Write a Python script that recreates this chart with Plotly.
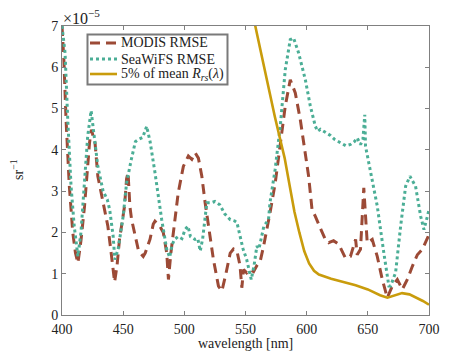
import plotly.graph_objects as go

# MODIS RMSE (x1e-5 sr^-1)
modis_wl = [400, 401.5, 403.3, 406, 408.8, 411, 413, 415.5, 418.4, 421, 422.5, 424, 425.5, 427,
            429.3, 433.4, 437.5, 440.2, 443, 445, 447, 451.1, 452.8, 454, 455.5, 456.9, 459.6,
            462.3, 464, 466.4, 468, 471.9, 474.6, 476, 480, 482.8, 485.6, 487, 489, 492.4, 495,
            499.2, 503.3, 506.1, 508.8, 511.5, 514.3, 517, 519.7, 523.8, 527.9, 530.7, 534,
            537.5, 540.2, 543, 545.5, 547, 548.4, 551, 553.7, 556.6, 559.3, 562, 564.8, 567.5,
            570.2, 574.3, 578.4, 582.5, 586.6, 590.7, 594.8, 598.9, 601.6, 604.4, 607.1, 611.2,
            615.3, 618, 622, 626.3, 631.7, 635.8, 640, 641.3, 644, 646.7, 649.5, 653.6, 657.7,
            661.8, 665.9, 670, 674.1, 678.2, 682.3, 686.4, 690.5, 694.6, 697.3, 700]
modis_val = [7.0, 6.2, 4.73, 3.12, 2.0, 1.5, 1.26, 1.8, 2.63, 3.7, 4.17, 4.49, 4.3, 4.17,
             3.36, 2.72, 2.15, 1.5, 0.8, 1.2, 1.83, 2.63, 3.3, 3.45, 2.63, 2.31, 1.91,
             1.59, 1.5, 1.42, 1.5, 1.83, 2.2, 2.27, 2.15, 2.0, 1.5, 0.86, 1.5, 2.31, 2.96,
             3.6, 3.85, 3.77, 3.93, 3.8, 3.36, 2.72, 2.15, 1.34, 0.7, 0.58, 1.0,
             1.5, 1.6, 1.55, 1.2, 0.66, 1.1, 1.02, 1.1, 1.05, 1.2, 1.3, 1.67, 2.07,
             2.5, 3.2, 4.17, 5.06, 5.70, 5.38, 4.73, 3.93, 3.36, 2.55, 2.39, 2.1,
             1.83, 1.75, 1.8, 1.71, 1.38, 1.42, 1.83, 1.46, 1.59, 3.08, 1.75, 1.83, 1.42,
             0.86, 0.42, 0.7, 0.86, 0.62, 0.86, 1.18, 1.46, 1.59, 1.75, 1.95]

# SeaWiFS RMSE (x1e-5 sr^-1)
seawifs_wl = [400, 402.5, 404.7, 407.4, 410, 413, 415.5, 418.4, 421, 423.8, 426.5, 429.3,
              433.6, 437, 439, 441.8, 443.2, 445.9, 450, 452.8, 456.6, 460, 462.3, 466, 469.2,
              472, 476, 481.5, 485.6, 488, 490, 492, 495, 498, 500.6, 503, 505, 508.8, 511,
              513, 515, 517, 518.4, 522, 525, 529, 533, 537.5, 541, 543, 545.6, 548, 551, 554,
              554.7, 557, 559.3, 561, 563.4, 565, 568.8, 570, 574.2, 578.4, 582.5, 586.6,
              589.3, 593.4, 598.9, 603, 607.1, 609, 611.2, 614, 619.4, 623, 627.6, 632, 635.8,
              639, 641.3, 644, 646, 647.5, 648.1, 652.2, 657.7, 663.1, 667.2, 668.6, 672.7,
              676.8, 680.9, 684.4, 689, 693.2, 695.9, 698.7, 700]
seawifs_val = [7.0, 6.35, 4.73, 3.12, 2.15, 1.42, 2.0, 3.12, 4.33, 4.95, 4.33, 3.6,
               3.0, 2.8, 2.55, 1.91, 1.34, 1.6, 2.39, 3.2, 3.76, 4.2, 4.25, 4.3, 4.57,
               4.2, 3.45, 2.31, 1.59, 1.4, 1.7, 1.83, 1.9, 1.85, 2.07, 2.15, 1.9, 1.83, 1.85,
               1.55, 1.85, 2.4, 2.72, 2.72, 2.75, 2.67, 2.45, 2.31, 2.28, 2.24, 1.9, 1.6, 1.34, 0.93,
               0.86, 1.2, 1.67, 1.6, 1.95, 2.15, 2.31, 2.72, 3.52, 4.57, 5.94, 6.67,
               6.71, 6.35, 5.7, 5.06, 4.57, 4.45, 4.5, 4.45, 4.35, 4.25, 4.17, 4.1, 4.13,
               4.2, 4.29, 4.13, 4.25, 4.85, 4.09, 3.45, 2.64, 1.5, 0.7, 0.7, 1.03,
               2.15, 3.12, 3.36, 3.12, 2.39, 2.07, 2.39, 2.55]

# 5% of mean Rrs (x1e-5 sr^-1)
rrs_wl = [556.5, 558, 562, 566, 570, 574, 578, 582, 586, 590, 594, 598, 602, 606, 610,
          620, 630, 640, 650, 660, 666, 672, 678, 684, 690, 695, 700]
rrs_val = [7.3, 7.0, 6.45, 5.9, 5.3, 4.8, 4.3, 3.8, 3.15, 2.5, 2.0, 1.55, 1.25, 1.07, 0.98,
           0.88, 0.8, 0.72, 0.62, 0.48, 0.42, 0.48, 0.53, 0.5, 0.42, 0.34, 0.25]

x_ticks = [400, 450, 500, 550, 600, 650, 700]
y_ticks = [0, 1, 2, 3, 4, 5, 6, 7]
series_names = ["MODIS RMSE", "SeaWiFS RMSE", "5% of mean <i>R<sub>rs</sub></i>(<i>λ</i>)"]

FONT = "Liberation Serif"
TXT = "#222222"
AXC = "#808080"
C_MODIS = "#9C4A36"
C_SEA = "#4BAE96"
C_RRS = "#C99C0C"
DASH_MODIS = "10px,6px"
styles = [dict(color=C_MODIS, width=3, dash=DASH_MODIS),
          dict(color=C_SEA, width=3, dash="dot"),
          dict(color=C_RRS, width=2.6, dash="solid")]

fig = go.Figure()
for wl, val, name, st in zip([modis_wl, seawifs_wl, rrs_wl],
                             [modis_val, seawifs_val, rrs_val], series_names, styles):
    fig.add_trace(go.Scatter(x=wl, y=val, mode="lines", name=name, line=st,
                             showlegend=False))

axis_common = dict(showgrid=False, zeroline=False, showline=True, mirror="allticks",
                   linecolor=AXC, linewidth=1, ticks="inside", ticklen=4,
                   tickcolor=AXC, tickfont=dict(family=FONT, size=14, color=TXT))

fig.update_xaxes(range=[400, 700], tickvals=x_ticks, ticklabelstandoff=1, **axis_common)
fig.update_yaxes(range=[0, 7], tickvals=y_ticks, **axis_common)

# axis titles and exponent label
fig.add_annotation(text="wavelength [nm]", xref="paper", yref="paper", x=0.5, y=-0.1,
                   xanchor="center", yanchor="middle", showarrow=False,
                   font=dict(family=FONT, size=14, color=TXT))
fig.add_annotation(text="sr<sup>−1</sup>", xref="paper", yref="paper", x=-0.123, y=0.505,
                   xanchor="center", yanchor="middle", showarrow=False, textangle=-90,
                   font=dict(family=FONT, size=14, color=TXT))
fig.add_annotation(text="×10<sup>−5</sup>", xref="paper", yref="paper", x=-0.004, y=1,
                   xanchor="left", yanchor="bottom", showarrow=False, yshift=-3,
                   font=dict(family=FONT, size=16, color=TXT))

# Manual legend (MATLAB-like compact box)
bx0, bx1, by0, by1 = 0.06948, 0.45095, 0.79758, 0.97059
fig.add_shape(type="rect", xref="paper", yref="paper", x0=bx0, x1=bx1, y0=by0, y1=by1,
              line=dict(color="#7a7a7a", width=2), fillcolor="white", layer="above")
row_y = [0.9412, 0.8858, 0.8339]
for ry, name, st in zip(row_y, series_names, styles):
    fig.add_shape(type="line", xref="paper", yref="paper", x0=0.0763, x1=0.1499,
                  y0=ry, y1=ry, line=st, layer="above")
    fig.add_annotation(text=name, xref="paper", yref="paper", x=0.1553, y=ry,
                       xanchor="left", yanchor="middle", showarrow=False,
                       font=dict(family=FONT, size=14, color=TXT))

# page body has an 8px margin; compensate so the plot area lands where the reference has it
fig.update_layout(
    width=466, height=347,
    margin=dict(l=54, r=45, t=18, b=40, autoexpand=False),
    paper_bgcolor="white", plot_bgcolor="white",
    font=dict(family=FONT, size=14, color=TXT),
    showlegend=False,
)

fig.write_html("out.html")
